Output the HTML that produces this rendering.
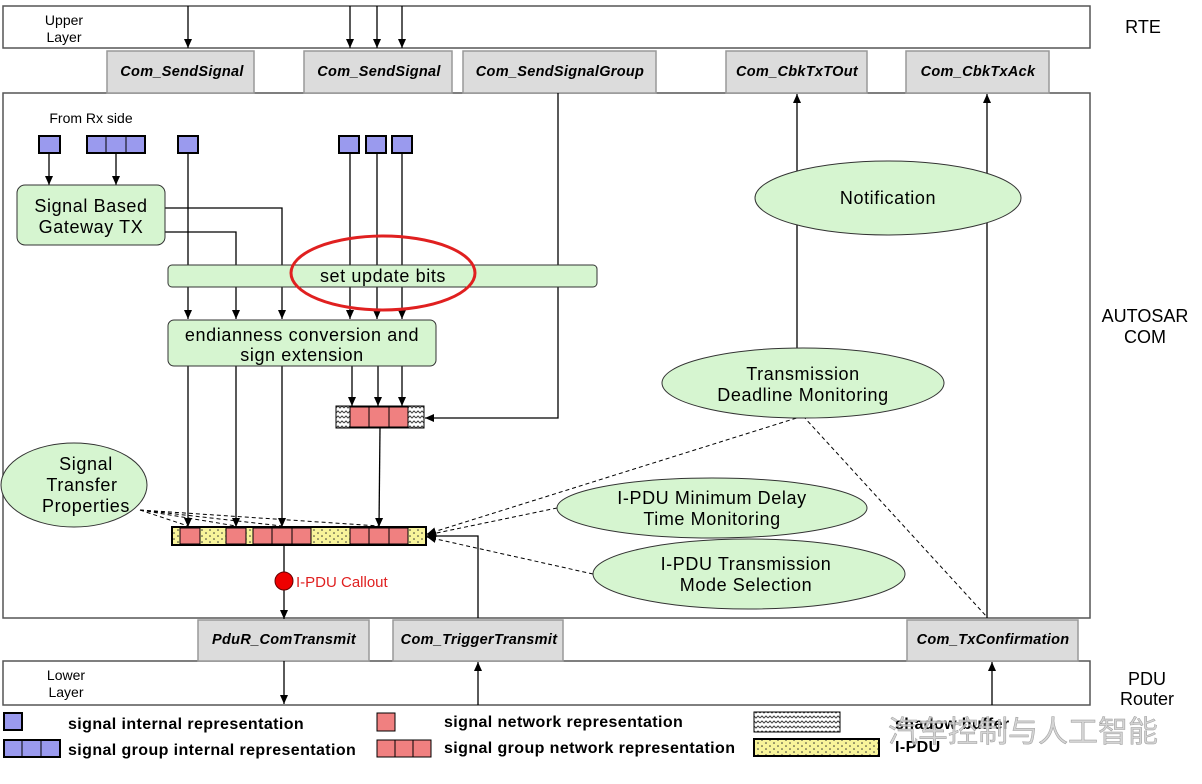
<!DOCTYPE html>
<html><head><meta charset="utf-8"><style>
body{margin:0;background:#fff}
svg{display:block;font-family:"Liberation Sans",Arial,sans-serif}
.if{fill:#dcdcdc;stroke:#999;stroke-width:1.5}
.it{font-weight:bold;font-style:italic;font-size:14.5px;letter-spacing:0.3px;text-anchor:middle}
.g{fill:#d6f5d0;stroke:#333;stroke-width:1}
.l{stroke:#000;stroke-width:1.3;fill:none}
.d{stroke:#000;stroke-width:1;fill:none;stroke-dasharray:4,3}
.b{fill:#9a9aee;stroke:#000;stroke-width:2}
.r{fill:#f08080;stroke:#000;stroke-width:1}
.tx{font-size:18px;letter-spacing:0.6px;text-anchor:middle}
.lg{font-weight:bold;font-size:16px;letter-spacing:0.4px}
.sm{font-size:14px;text-anchor:middle}
</style></head><body>
<svg width="1202" height="784" viewBox="0 0 1202 784">
<defs>
<marker id="a" markerWidth="10" markerHeight="10" refX="9" refY="5" orient="auto" markerUnits="userSpaceOnUse"><path d="M0,1 L9,5 L0,9 z" fill="#000"/></marker>
<pattern id="dots" width="8" height="6" patternUnits="userSpaceOnUse"><rect width="8" height="6" fill="#f8f49a"/><circle cx="2" cy="2" r="0.8" fill="#333"/><circle cx="6" cy="5" r="0.8" fill="#333"/></pattern>
<pattern id="zz" width="8" height="5" patternUnits="userSpaceOnUse"><rect width="8" height="5" fill="#fff"/><path d="M0,3 L2,1 L4,3 L6,1 L8,3" stroke="#444" fill="none" stroke-width="1"/></pattern>
</defs>
<rect x="3" y="6" width="1087" height="42" fill="#fff" stroke="#555" stroke-width="1.5"/>
<text class="sm" x="64" y="25">Upper</text><text class="sm" x="64" y="42">Layer</text>
<rect x="3" y="93" width="1087" height="525" fill="#fff" stroke="#555" stroke-width="1.5"/>
<rect x="3" y="661" width="1087" height="44" fill="#fff" stroke="#555" stroke-width="1.5"/>
<text class="sm" x="66" y="680">Lower</text><text class="sm" x="66" y="697">Layer</text>
<text x="1143" y="33" font-size="18" text-anchor="middle">RTE</text>
<text x="1145" y="322" font-size="18" text-anchor="middle">AUTOSAR</text><text x="1145" y="343" font-size="18" text-anchor="middle">COM</text>
<text x="1147" y="685" font-size="18" text-anchor="middle">PDU</text><text x="1147" y="705" font-size="18" text-anchor="middle">Router</text>
<rect class="if" x="107" y="51" width="147" height="42"/><text class="it" x="182" y="76">Com_SendSignal</text>
<rect class="if" x="304" y="51" width="148" height="42"/><text class="it" x="379" y="76">Com_SendSignal</text>
<rect class="if" x="463" y="51" width="193" height="42"/><text class="it" x="560" y="76">Com_SendSignalGroup</text>
<rect class="if" x="726" y="51" width="141" height="42"/><text class="it" x="797" y="76">Com_CbkTxTOut</text>
<rect class="if" x="906" y="51" width="143" height="42"/><text class="it" x="978" y="76">Com_CbkTxAck</text>
<rect class="if" x="198" y="620" width="171" height="41"/><text class="it" x="284" y="644">PduR_ComTransmit</text>
<rect class="if" x="393" y="620" width="170" height="41"/><text class="it" x="479" y="644">Com_TriggerTransmit</text>
<rect class="if" x="907" y="620" width="171" height="41"/><text class="it" x="993" y="644">Com_TxConfirmation</text>
<line class="l" x1="188" y1="6" x2="188" y2="48" marker-end="url(#a)"/>
<line class="l" x1="350" y1="6" x2="350" y2="48" marker-end="url(#a)"/>
<line class="l" x1="377" y1="6" x2="377" y2="48" marker-end="url(#a)"/>
<line class="l" x1="402" y1="6" x2="402" y2="48" marker-end="url(#a)"/>
<text class="sm" x="91" y="123">From Rx side</text>
<line class="l" x1="49" y1="153" x2="49" y2="185" marker-end="url(#a)"/>
<line class="l" x1="116" y1="153" x2="116" y2="185" marker-end="url(#a)"/>
<line class="l" x1="188" y1="153" x2="188" y2="319" marker-end="url(#a)"/>
<polyline class="l" points="165,208 282,208 282,319" marker-end="url(#a)"/>
<polyline class="l" points="165,232 236,232 236,319" marker-end="url(#a)"/>
<line class="l" x1="350" y1="153" x2="350" y2="319" marker-end="url(#a)"/>
<line class="l" x1="377" y1="153" x2="377" y2="319" marker-end="url(#a)"/>
<line class="l" x1="402" y1="153" x2="402" y2="319" marker-end="url(#a)"/>
<polyline class="l" points="558,93 558,418 425,418" marker-end="url(#a)"/>
<line class="l" x1="188" y1="366" x2="188" y2="527" marker-end="url(#a)"/>
<line class="l" x1="236" y1="366" x2="236" y2="527" marker-end="url(#a)"/>
<line class="l" x1="282" y1="366" x2="282" y2="527" marker-end="url(#a)"/>
<line class="l" x1="352" y1="366" x2="352" y2="406" marker-end="url(#a)"/>
<line class="l" x1="378" y1="366" x2="378" y2="406" marker-end="url(#a)"/>
<line class="l" x1="402" y1="366" x2="402" y2="406" marker-end="url(#a)"/>
<line class="l" x1="380" y1="428" x2="379" y2="527" marker-end="url(#a)"/>
<line class="l" x1="284" y1="545" x2="284" y2="619" marker-end="url(#a)"/>
<line class="l" x1="284" y1="661" x2="284" y2="704" marker-end="url(#a)"/>
<line class="l" x1="478" y1="705" x2="478" y2="662" marker-end="url(#a)"/>
<polyline class="l" points="478,618 478,536 427,536" marker-end="url(#a)"/>
<line class="l" x1="797" y1="350" x2="797" y2="94" marker-end="url(#a)"/>
<line class="l" x1="987" y1="618" x2="987" y2="94" marker-end="url(#a)"/>
<line class="l" x1="992" y1="705" x2="992" y2="662" marker-end="url(#a)"/>
<line class="d" x1="803" y1="416" x2="427" y2="534" marker-end="url(#a)"/>
<line class="d" x1="803" y1="416" x2="987" y2="617"/>
<line class="d" x1="557" y1="508" x2="427" y2="535" marker-end="url(#a)"/>
<line class="d" x1="593" y1="574" x2="427" y2="537" marker-end="url(#a)"/>
<line class="d" x1="140" y1="510" x2="188" y2="526"/>
<line class="d" x1="140" y1="510" x2="236" y2="526"/>
<line class="d" x1="140" y1="510" x2="282" y2="526"/>
<line class="d" x1="140" y1="510" x2="379" y2="526"/>
<rect class="b" x="39" y="136" width="21" height="17"/>
<rect class="b" x="87" y="136" width="58" height="17"/><line x1="106" y1="136" x2="106" y2="153" stroke="#000"/><line x1="126" y1="136" x2="126" y2="153" stroke="#000"/>
<rect class="b" x="178" y="136" width="20" height="17"/>
<rect class="b" x="339" y="136" width="20" height="17"/>
<rect class="b" x="366" y="136" width="20" height="17"/>
<rect class="b" x="392" y="136" width="20" height="17"/>
<rect class="g" x="17" y="185" width="148" height="60" rx="8"/>
<text class="tx" x="91" y="212">Signal Based</text><text class="tx" x="91" y="233">Gateway TX</text>
<rect class="g" x="168" y="265" width="429" height="22" rx="4"/>
<text class="tx" x="383" y="282">set update bits</text>
<rect class="g" x="168" y="320" width="268" height="46" rx="6"/>
<text class="tx" x="302" y="341">endianness conversion and</text><text class="tx" x="302" y="361">sign extension</text>
<ellipse cx="383" cy="273" rx="92" ry="37" fill="none" stroke="#e02020" stroke-width="3"/>
<rect x="336" y="406" width="88" height="22" fill="url(#zz)" stroke="#000"/>
<rect class="r" x="350" y="407" width="58" height="20" stroke-width="2"/><line x1="369" y1="407" x2="369" y2="427" stroke="#000"/><line x1="389" y1="407" x2="389" y2="427" stroke="#000"/>
<rect x="172" y="527" width="254" height="18" fill="url(#dots)" stroke="#000" stroke-width="2"/>
<rect class="r" x="180" y="528" width="20" height="16"/>
<rect class="r" x="226" y="528" width="20" height="16"/>
<rect class="r" x="253" y="528" width="58" height="16"/><line x1="272" y1="528" x2="272" y2="544" stroke="#000"/><line x1="292" y1="528" x2="292" y2="544" stroke="#000"/>
<rect class="r" x="350" y="528" width="58" height="16"/><line x1="369" y1="528" x2="369" y2="544" stroke="#000"/><line x1="389" y1="528" x2="389" y2="544" stroke="#000"/>
<circle cx="284" cy="581" r="9" fill="#e00" stroke="#600"/>
<text x="296" y="587" font-size="15" fill="#e02020">I-PDU Callout</text>
<ellipse class="g" cx="888" cy="198" rx="133" ry="37"/><text class="tx" x="888" y="204">Notification</text>
<ellipse class="g" cx="803" cy="383" rx="141" ry="35"/><text class="tx" x="803" y="380">Transmission</text><text class="tx" x="803" y="401">Deadline Monitoring</text>
<ellipse class="g" cx="74" cy="485" rx="73" ry="42"/><text class="tx" x="86" y="470">Signal</text><text class="tx" x="82" y="491">Transfer</text><text class="tx" x="86" y="512">Properties</text>
<ellipse class="g" cx="712" cy="508" rx="155" ry="30"/><text class="tx" x="712" y="504">I-PDU Minimum Delay</text><text class="tx" x="712" y="525">Time Monitoring</text>
<ellipse class="g" cx="749" cy="574" rx="156" ry="35"/><text class="tx" x="746" y="570">I-PDU Transmission</text><text class="tx" x="746" y="591">Mode Selection</text>
<rect class="b" x="4" y="713" width="18" height="17"/><text class="lg" x="68" y="729">signal internal representation</text>
<rect class="b" x="4" y="740" width="56" height="17"/><line x1="22" y1="740" x2="22" y2="757" stroke="#000"/><line x1="41" y1="740" x2="41" y2="757" stroke="#000"/><text class="lg" x="68" y="755">signal group internal representation</text>
<rect class="r" x="377" y="713" width="18" height="18" stroke-width="2"/><text class="lg" x="444" y="727">signal network representation</text>
<rect class="r" x="377" y="740" width="54" height="17" stroke-width="2"/><line x1="395" y1="740" x2="395" y2="757" stroke="#000"/><line x1="413" y1="740" x2="413" y2="757" stroke="#000"/><text class="lg" x="444" y="753">signal group network representation</text>
<rect x="754" y="712" width="86" height="20" fill="url(#zz)" stroke="#000"/><text class="lg" x="895" y="729">shadow buffer</text>
<rect x="754" y="739" width="125" height="17" fill="url(#dots)" stroke="#000" stroke-width="2"/><text class="lg" x="895" y="752">I-PDU</text>
<text x="888" y="742" font-size="30" fill="#ccc" fill-opacity="0.85" font-family="'Liberation Sans','Noto Sans CJK SC',sans-serif" stroke="#999" stroke-width="0.5">汽车控制与人工智能</text>
</svg>
</body></html>
